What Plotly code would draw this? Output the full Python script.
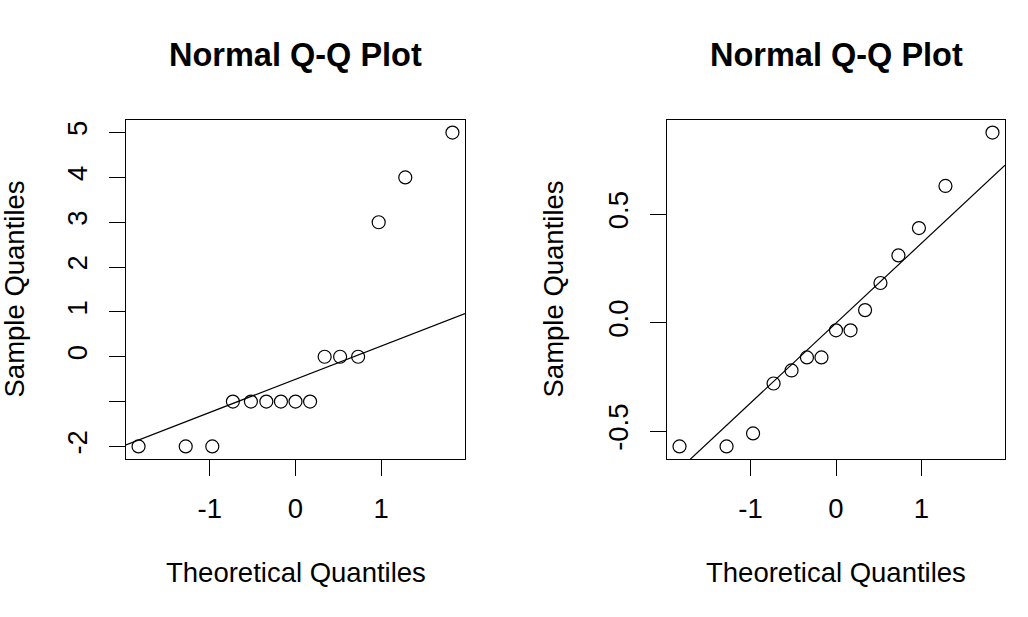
import numpy as np
import plotly.graph_objects as go

# ---- data ----
theoretical = [-1.83, -1.28, -0.97, -0.73, -0.52, -0.34, -0.17, 0.0,
               0.17, 0.34, 0.52, 0.73, 0.97, 1.28, 1.83]
sample_left = [-2, -2, -2, -1, -1, -1, -1, -1, -1, 0, 0, 0, 3, 4, 5]
sample_right = [-0.57, -0.57, -0.51, -0.28, -0.22, -0.16, -0.16, -0.035,
                -0.035, 0.058, 0.183, 0.31, 0.436, 0.63, 0.876]

x_ticks = [-1, 0, 1]
x_ticklabels = ["-1", "0", "1"]
yl_ticks = [-2, -1, 0, 1, 2, 3, 4, 5]
yl_ticklabels = ["-2", "", "0", "1", "2", "3", "4", "5"]
yr_ticks = [-0.5, 0.0, 0.5]
yr_ticklabels = ["-0.5", "0.0", "0.5"]

title_text = "Normal Q-Q Plot"
xlabel = "Theoretical Quantiles"
ylabel = "Sample Quantiles"

W, H = 1028, 617
FONT = "Liberation Sans, Arial, Helvetica, sans-serif"
BASE = 27.5
TITLE = 32.5


def r_range(v):
    v = np.asarray(v, float)
    d = v.max() - v.min()
    return [v.min() - 0.04 * d, v.max() + 0.04 * d]


def qqline(sample):
    q1, q3 = np.percentile(sample, [25, 75])
    z1, z3 = -0.6744898, 0.6744898
    slope = (q3 - q1) / (z3 - z1)
    inter = q1 - slope * z1
    return slope, inter


xr = r_range(theoretical)

fig = go.Figure()
for i, samp in enumerate([sample_left, sample_right]):
    xa = "x" if i == 0 else "x2"
    ya = "y" if i == 0 else "y2"
    fig.add_trace(go.Scatter(
        x=theoretical, y=samp, mode="markers", xaxis=xa, yaxis=ya,
        marker=dict(symbol="circle-open", size=13, color="black",
                    line=dict(width=1.2, color="black")),
        showlegend=False, hoverinfo="skip"))
    s, b = qqline(samp)
    fig.add_trace(go.Scatter(
        x=[xr[0], xr[1]], y=[b + s * xr[0], b + s * xr[1]], mode="lines",
        xaxis=xa, yaxis=ya, line=dict(color="black", width=1.2),
        showlegend=False, hoverinfo="skip"))

common = dict(showline=True, mirror=True, linecolor="black", linewidth=1.3,
              ticks="outside", ticklen=16, tickwidth=1.3, tickcolor="black",
              showgrid=False, zeroline=False,
              tickfont=dict(size=BASE, color="black", family=FONT))

dom_l = [126 / W, 465 / W]
dom_r = [667 / W, 1005 / W]
dom_y = [1 - 459 / H, 1 - 120 / H]

fig.update_layout(
    width=W, height=H, autosize=False,
    margin=dict(l=0, r=0, t=0, b=0),
    paper_bgcolor="white", plot_bgcolor="white",
    font=dict(family=FONT, color="black", size=BASE),
    xaxis=dict(common, domain=dom_l, range=xr, tickvals=x_ticks,
               ticktext=x_ticklabels, anchor="y", ticklabelstandoff=9),
    yaxis=dict(common, domain=dom_y, range=r_range(sample_left),
               tickvals=yl_ticks, ticktext=yl_ticklabels, tickangle=-90,
               anchor="x", ticklabelstandoff=11),
    xaxis2=dict(common, domain=dom_r, range=xr, tickvals=x_ticks,
                ticktext=x_ticklabels, anchor="y2", ticklabelstandoff=9),
    yaxis2=dict(common, domain=dom_y, range=r_range(sample_right),
                tickvals=yr_ticks, ticktext=yr_ticklabels, tickangle=-90,
                anchor="x2", ticklabelstandoff=11),
)

ann = []
for dom, yx in [(dom_l, 14), (dom_r, 553)]:
    cx = (dom[0] + dom[1]) / 2
    ann.append(dict(text="<b>" + title_text + "</b>", x=cx, y=1 - 55 / H,
                    xref="paper", yref="paper", xanchor="center",
                    yanchor="middle", showarrow=False,
                    font=dict(size=TITLE, family=FONT, color="black")))
    ann.append(dict(text=xlabel, x=cx, y=1 - 572 / H, xref="paper",
                    yref="paper", xanchor="center", yanchor="middle",
                    showarrow=False,
                    font=dict(size=BASE, family=FONT, color="black")))
    ann.append(dict(text=ylabel, x=yx / W, y=1 - 289.5 / H, xref="paper",
                    yref="paper", xanchor="center", yanchor="middle",
                    textangle=-90, showarrow=False,
                    font=dict(size=BASE, family=FONT, color="black")))
fig.update_layout(annotations=ann)

fig.write_html("out.html")
